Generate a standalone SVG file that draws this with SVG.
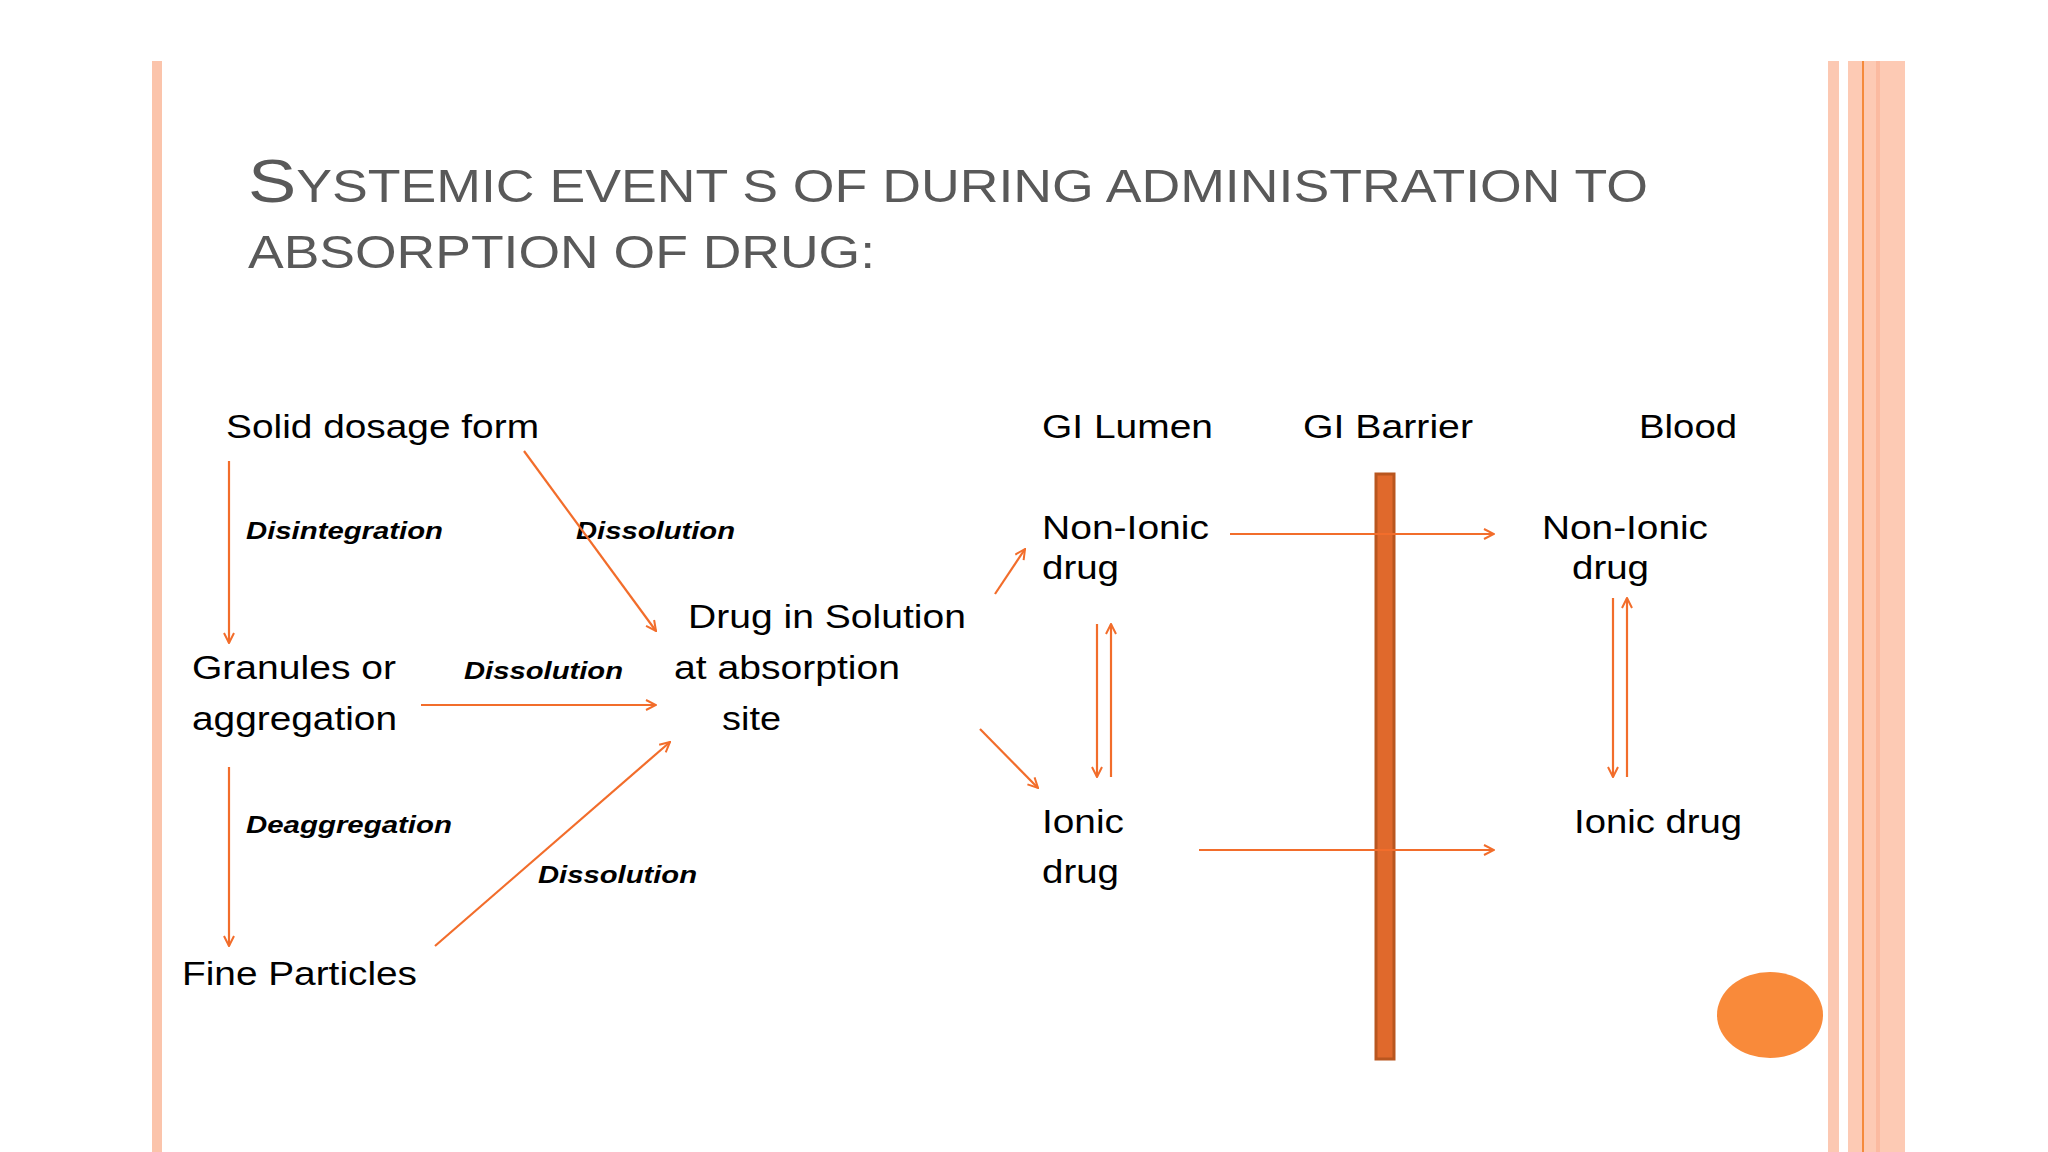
<svg xmlns="http://www.w3.org/2000/svg" width="2048" height="1152" viewBox="0 0 2048 1152">
<style>
.t{font-family:"Liberation Sans",Arial,sans-serif;font-size:33px;fill:#000}
.l{font-family:"Liberation Sans",Arial,sans-serif;font-size:24px;font-weight:bold;font-style:italic;fill:#000}
.h{font-family:"Liberation Sans",Arial,sans-serif;fill:#595959;font-size:46px}
.c line{stroke:#f26d2b;stroke-width:2.2;fill:none;marker-end:url(#a)}
</style>
<defs><marker id="a" viewBox="0 0 12 12" refX="11" refY="6" markerWidth="12" markerHeight="12" markerUnits="userSpaceOnUse" orient="auto"><path d="M1,1 L11,6 L1,11" fill="none" stroke="#f26d2b" stroke-width="2"/></marker></defs>
<rect width="2048" height="1152" fill="#fff"/>
<rect x="152" y="61" width="10" height="1091" fill="#fbc4ab"/>
<rect x="1828" y="61" width="11" height="1091" fill="#fcc8b2"/>
<rect x="1848" y="61" width="57" height="1091" fill="#fdcab4"/>
<rect x="1876" y="61" width="4" height="1091" fill="#fbbaa0"/>
<rect x="1862" y="61" width="2" height="1091" fill="#f58a3c"/>
<text class="h" x="248" y="202" textLength="1400" lengthAdjust="spacingAndGlyphs"><tspan font-size="62">S</tspan>YSTEMIC EVENT S OF DURING ADMINISTRATION TO</text>
<text class="h" x="248" y="268" textLength="627" lengthAdjust="spacingAndGlyphs">ABSORPTION OF DRUG:</text>
<g id="solid"><text class="t" x="226" y="438" textLength="313" lengthAdjust="spacingAndGlyphs">Solid dosage form</text></g>
<g id="gilumen"><text class="t" x="1042" y="438" textLength="171" lengthAdjust="spacingAndGlyphs">GI Lumen</text></g>
<g id="gibarrier"><text class="t" x="1303" y="438" textLength="170" lengthAdjust="spacingAndGlyphs">GI Barrier</text><rect x="1376" y="474" width="18" height="585" fill="#e0692c" stroke="#b9561f" stroke-width="3"/></g>
<g id="blood"><text class="t" x="1639" y="438" textLength="98" lengthAdjust="spacingAndGlyphs">Blood</text></g>
<g id="nonionic1"><text class="t" x="1042" y="539" textLength="167" lengthAdjust="spacingAndGlyphs">Non-Ionic</text><text class="t" x="1042" y="579" textLength="77" lengthAdjust="spacingAndGlyphs">drug</text></g>
<g id="nonionic2"><text class="t" x="1542" y="539" textLength="166" lengthAdjust="spacingAndGlyphs">Non-Ionic</text><text class="t" x="1572" y="579" textLength="77" lengthAdjust="spacingAndGlyphs">drug</text></g>
<g id="solution"><text class="t" x="688" y="628" textLength="278" lengthAdjust="spacingAndGlyphs">Drug in Solution</text><text class="t" x="674" y="679" textLength="226" lengthAdjust="spacingAndGlyphs">at absorption</text><text class="t" x="722" y="730" textLength="59" lengthAdjust="spacingAndGlyphs">site</text></g>
<g id="granules"><text class="t" x="192" y="679" textLength="204" lengthAdjust="spacingAndGlyphs">Granules or</text><text class="t" x="192" y="730" textLength="205" lengthAdjust="spacingAndGlyphs">aggregation</text></g>
<g id="ionic1"><text class="t" x="1042" y="833" textLength="82" lengthAdjust="spacingAndGlyphs">Ionic</text><text class="t" x="1042" y="883" textLength="77" lengthAdjust="spacingAndGlyphs">drug</text></g>
<g id="ionic2"><text class="t" x="1574" y="833" textLength="168" lengthAdjust="spacingAndGlyphs">Ionic drug</text></g>
<g id="fine"><text class="t" x="182" y="985" textLength="235" lengthAdjust="spacingAndGlyphs">Fine Particles</text></g>
<g id="labels">
<text class="l" x="246" y="539" textLength="197" lengthAdjust="spacingAndGlyphs">Disintegration</text>
<text class="l" x="576" y="539" textLength="159" lengthAdjust="spacingAndGlyphs">Dissolution</text>
<text class="l" x="464" y="679" textLength="159" lengthAdjust="spacingAndGlyphs">Dissolution</text>
<text class="l" x="246" y="833" textLength="206" lengthAdjust="spacingAndGlyphs">Deaggregation</text>
<text class="l" x="538" y="883" textLength="159" lengthAdjust="spacingAndGlyphs">Dissolution</text>
</g>
<g class="c" id="connectors">
<line x1="229" y1="461" x2="229" y2="643"/>
<line x1="524" y1="451" x2="656" y2="631"/>
<line x1="421" y1="705" x2="656" y2="705"/>
<line x1="229" y1="767" x2="229" y2="946"/>
<line x1="435" y1="946" x2="670" y2="742"/>
<line x1="995" y1="594" x2="1025" y2="549"/>
<line x1="980" y1="729" x2="1038" y2="788"/>
<line x1="1097" y1="624" x2="1097" y2="777"/>
<line x1="1111" y1="777" x2="1111" y2="624"/>
<line x1="1230" y1="534" x2="1494" y2="534"/>
<line x1="1199" y1="850" x2="1494" y2="850"/>
<line x1="1613" y1="598" x2="1613" y2="777"/>
<line x1="1627" y1="777" x2="1627" y2="598"/>
</g>
<ellipse cx="1770" cy="1015" rx="53" ry="43" fill="#f98a3a"/>
</svg>
